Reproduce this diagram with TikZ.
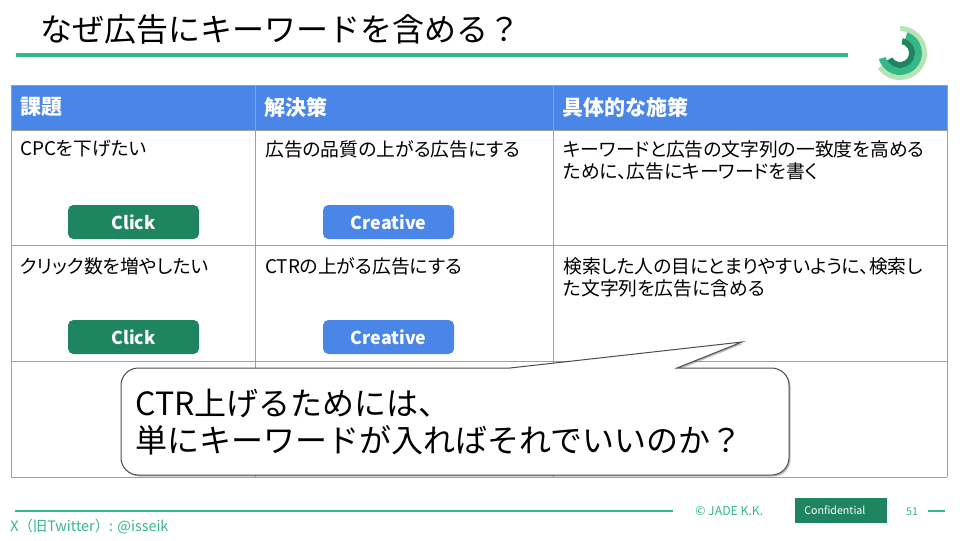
\documentclass[tikz,border=0pt]{standalone}
\usepackage{fontspec}
\setmainfont{Noto Sans CJK JP}
\newfontfamily\paltfont[RawFeature=+palt]{Noto Sans CJK JP}
\usetikzlibrary{shadows}
\definecolor{headblue}{HTML}{4A86E8}
\definecolor{darkgreen}{HTML}{1E8560}
\definecolor{midgreen}{HTML}{34B888}
\definecolor{palegreen}{HTML}{B7E4B4}
\definecolor{gridgrey}{HTML}{A0A0A0}

\begin{document}
\begin{tikzpicture}[x=0.75pt,y=-0.75pt,font=\fontsize{13.5pt}{16.9pt}\selectfont]

\tikzset{celltext/.style={anchor=north west,inner sep=0pt,align=left,text=black,font=\paltfont\fontsize{14.1pt}{16.9pt}\selectfont},
headtext/.style={anchor=west,inner sep=0pt,text=white,font=\fontsize{15.75pt}{18pt}\selectfont\bfseries},
button/.style={shape=rectangle,rounded corners=4pt,minimum width=98.25pt,minimum height=25.5pt,inner sep=0pt,text=white,font=\fontsize{13.3pt}{15pt}\selectfont\bfseries},
footertext/.style={inner sep=0pt,text=midgreen,font=\fontsize{9.2pt}{10pt}\selectfont},
rule/.style={draw=midgreen,line width=1.5pt}}

\useasboundingbox (0,0) rectangle (960,540);

% Title
\node[anchor=west,inner sep=0pt,font=\fontsize{24pt}{28pt}\selectfont] (title) at (40,29) {なぜ広告にキーワードを含める？};
\draw[draw=midgreen,line width=2.4pt] (16,55) -- (848,55);

% Logo
\begin{scope}[shift={(900,53)},y=0.75pt]
\fill[palegreen] (90:27) arc[start angle=90,end angle=-145,radius=27] -- (-145:22) arc[start angle=-145,end angle=90,radius=22] -- cycle;
\fill[midgreen] (70:22) arc[start angle=70,end angle=-164,radius=22] -- (-164:15) arc[start angle=-164,end angle=70,radius=15] -- cycle;
\fill[darkgreen] (80:15) arc[start angle=80,end angle=-150,radius=15] -- (-150:9) arc[start angle=-150,end angle=80,radius=9] -- cycle;
\end{scope}

% Table
\fill[headblue] (11,85) rectangle (947,130);
\foreach \y in {85,130,245,361,477} \draw[gridgrey,line width=0.75pt] (11,\y) -- (947,\y);
\foreach \x in {11,255,553,947} \draw[gridgrey,line width=0.75pt] (\x,85) -- (\x,477);

% Header cells
\node[headtext] (head1) at (20,107) {課題};
\node[headtext] (head2) at (264,107) {解決策};
\node[headtext] (head3) at (562,107) {具体的な施策};

% Body cells
\node[celltext] (cell11) at (20,140) {CPCを下げたい};
\node[celltext] (cell12) at (265,140) {広告の品質の上がる広告にする};
\node[celltext] (cell13) at (563,140) {キーワードと広告の文字列の一致度を高める\\ために、広告にキーワードを書く};
\node[celltext] (cell21) at (20,257) {クリック数を増やしたい};
\node[celltext] (cell22) at (265,257) {CTRの上がる広告にする};
\node[celltext] (cell23) at (563,257) {検索した人の目にとまりやすいように、検索し\\た文字列を広告に含める};

% Buttons
\foreach \y/\n in {222/1,337/2} {
  \node[button,fill=darkgreen] (click\n) at (133.5,\y) {Click};
  \node[button,fill=headblue] (creative\n) at (388.5,\y) {Creative};
}

% Callout
\draw[draw=black!70,fill=white,line width=0.75pt,drop shadow={shadow xshift=1.2pt,shadow yshift=-1.2pt,opacity=0.5},rounded corners=13pt]
  (300,368) [sharp corners] -- (510,368) -- (742,342) -- (677,368) [rounded corners=13pt] -- (789,368) -- (789,475) -- (121,475) -- (121,368) -- cycle;
\node[anchor=north west,inner sep=0pt,align=left,font=\fontsize{24pt}{27.8pt}\selectfont] (calloutText) at (135,389) {CTR上げるためには、\\単にキーワードが入ればそれでいいのか？};

% Footer
\draw[rule] (15,511) -- (673,511);
\draw[rule] (928,511) -- (945,511);
\node[footertext,anchor=west] (copyright) at (695,511) {© JADE K.K.};
\node[shape=rectangle,fill=darkgreen,minimum width=69pt,minimum height=18.75pt,inner sep=0pt] (confBox) at (841,510.5) {};
\node[anchor=west,inner sep=0pt,text=white,font=\fontsize{8pt}{10pt}\selectfont] (confText) at (804,510.5) {Confidential};
\node[footertext,font=\fontsize{8pt}{10pt}\selectfont] (pageNo) at (912,512) {51};
\node[anchor=west,inner sep=0pt,text=midgreen,font=\fontsize{10.8pt}{14pt}\selectfont] (handle) at (10,527) {X（旧Twitter）: @isseik};

\end{tikzpicture}
\end{document}
